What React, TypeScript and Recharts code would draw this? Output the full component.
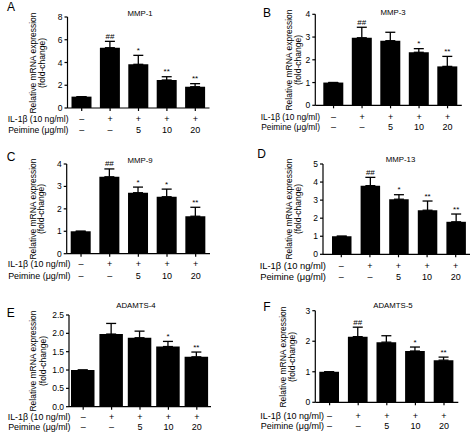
import React from 'react';
import { BarChart, Bar, XAxis, YAxis, ErrorBar, LabelList } from 'recharts';

// ---------- data ----------
const categories = ['Control', 'IL-1β', 'IL-1β+P5', 'IL-1β+P10', 'IL-1β+P20'];
const il1bSigns = ['–', '+', '+', '+', '+'];
const peimineDoses = ['–', '–', '5', '10', '20'];

const mmp1Values = [1.0, 5.3, 3.84, 2.46, 1.87];
const mmp1Errors = [0, 0.56, 0.79, 0.29, 0.27];
const mmp1Sig = ['', '##', '*', '**', '**'];

const mmp3Values = [1.0, 2.97, 2.84, 2.33, 1.71];
const mmp3Errors = [0, 0.46, 0.37, 0.16, 0.44];
const mmp3Sig = ['', '##', '', '*', '**'];

const mmp9Values = [1.0, 3.43, 2.72, 2.54, 1.67];
const mmp9Errors = [0, 0.35, 0.25, 0.34, 0.4];
const mmp9Sig = ['', '##', '*', '*', '**'];

const mmp13Values = [1.0, 3.8, 3.05, 2.44, 1.8];
const mmp13Errors = [0, 0.46, 0.25, 0.51, 0.43];
const mmp13Sig = ['', '##', '*', '**', '**'];

const adamts4Values = [1.0, 1.98, 1.88, 1.64, 1.36];
const adamts4Errors = [0, 0.29, 0.18, 0.14, 0.13];
const adamts4Sig = ['', '', '', '*', '**'];

const adamts5Values = [1.0, 2.15, 1.97, 1.68, 1.38];
const adamts5Errors = [0, 0.31, 0.21, 0.13, 0.1];
const adamts5Sig = ['', '##', '', '*', '**'];

const mmp1Ticks = [0, 2, 4, 6, 8];
const mmp3Ticks = [0, 1, 2, 3, 4];
const mmp9Ticks = [0, 1, 2, 3, 4];
const mmp13Ticks = [0, 1, 2, 3, 4, 5];
const adamts4Ticks = [0, 0.5, 1.0, 1.5, 2.0, 2.5];
const adamts5Ticks = [0, 1, 2, 3];

const yLabelLine1 = 'Relative mRNA expression';
const yLabelLine2 = '(fold-change)';
const il1bLabel = 'IL-1β (10 ng/ml)';
const peimineLabel = 'Peimine (μg/ml)';

// ---------- layout ----------
const FONT = '"Liberation Sans", Arial, Helvetica, sans-serif';
const PW = 237;
const PH = 146;

type Panel = {
  letter: string;
  title: string;
  values: number[];
  errors: number[];
  sig: string[];
  ticks: number[];
  decimals: number;
  ox: number;
  oy: number;
  axisX: number;
  bandEnd: number;
  top: number;
  bottom: number;
  padL: number;
  barSize: number;
  rows: [number, number];
  labelRight: number;
  labelSize: number;
  yl1: number;
  yl2: number;
  titleX: number;
  titleY: number;
  letterX: number;
  letterY: number;
};

const panels: Panel[] = [
  {
    letter: 'A', title: 'MMP-1', values: mmp1Values, errors: mmp1Errors, sig: mmp1Sig, ticks: mmp1Ticks, decimals: 0,
    ox: 0, oy: 0, axisX: 67.5, bandEnd: 209.5, top: 17, bottom: 108, padL: 0, barSize: 20,
    rows: [118.5, 129.5], labelRight: 68.5, labelSize: 8.6, yl1: 33, yl2: 41.7, titleX: 140, titleY: 14, letterX: 11, letterY: 7,
  },
  {
    letter: 'B', title: 'MMP-3', values: mmp3Values, errors: mmp3Errors, sig: mmp3Sig, ticks: mmp3Ticks, decimals: 0,
    ox: 237, oy: 0, axisX: 315.3, bandEnd: 461.8, top: 14.3, bottom: 105.3, padL: 4, barSize: 20,
    rows: [116.5, 127], labelRight: 320, labelSize: 8.4, yl1: 288.7, yl2: 297.7, titleX: 393, titleY: 13, letterX: 267, letterY: 12.5,
  },
  {
    letter: 'C', title: 'MMP-9', values: mmp9Values, errors: mmp9Errors, sig: mmp9Sig, ticks: mmp9Ticks, decimals: 0,
    ox: 0, oy: 145, axisX: 66.7, bandEnd: 210, top: 164, bottom: 253.7, padL: 0, barSize: 20,
    rows: [264, 275.5], labelRight: 70.5, labelSize: 8.9, yl1: 32.7, yl2: 41.3, titleX: 140, titleY: 160.5, letterX: 11, letterY: 156.7,
  },
  {
    letter: 'D', title: 'MMP-13', values: mmp13Values, errors: mmp13Errors, sig: mmp13Sig, ticks: mmp13Ticks, decimals: 0,
    ox: 237, oy: 145, axisX: 323, bandEnd: 470, top: 164, bottom: 254.3, padL: 4, barSize: 19.5,
    rows: [266, 276.5], labelRight: 326, labelSize: 9.4, yl1: 289.3, yl2: 298, titleX: 400.5, titleY: 160, letterX: 261.5, letterY: 154,
  },
  {
    letter: 'E', title: 'ADAMTS-4', values: adamts4Values, errors: adamts4Errors, sig: adamts4Sig, ticks: adamts4Ticks, decimals: 1,
    ox: 0, oy: 290, axisX: 69, bandEnd: 211, top: 315, bottom: 406.7, padL: 0, barSize: 23.5,
    rows: [417, 427], labelRight: 70.5, labelSize: 8.9, yl1: 33.3, yl2: 42.7, titleX: 136, titleY: 306, letterX: 10.7, letterY: 313,
  },
  {
    letter: 'F', title: 'ADAMTS-5', values: adamts5Values, errors: adamts5Errors, sig: adamts5Sig, ticks: adamts5Ticks, decimals: 0,
    ox: 237, oy: 290, axisX: 315.3, bandEnd: 458.3, top: 310.7, bottom: 402.3, padL: 0, barSize: 19.7,
    rows: [415.5, 426], labelRight: 324, labelSize: 9.0, yl1: 283, yl2: 292, titleX: 393, titleY: 306, letterX: 267, letterY: 306.7,
  },
];

const Y_AXIS_W = 30;
const X_AXIS_H = 20;

const makeTick = (p: Panel) => (props: any) => {
  const { x, payload } = props;
  const i = categories.indexOf(payload.value);
  return (
    <g>
      <text x={x} y={p.rows[0] - p.oy} textAnchor="middle" dominantBaseline="central" fontSize={9} fill="#000" fontFamily={FONT}>
        {il1bSigns[i]}
      </text>
      <text x={x} y={p.rows[1] - p.oy} textAnchor="middle" dominantBaseline="central" fontSize={9} fill="#000" fontFamily={FONT}>
        {peimineDoses[i]}
      </text>
    </g>
  );
};

const makeSig = (p: Panel) => (props: any) => {
  const vb = props.viewBox && props.viewBox.width !== undefined ? props.viewBox : props;
  const x = Number(vb.x);
  const y = Number(vb.y);
  const w = Number(vb.width);
  const h = Number(vb.height);
  const i = Number(props.value);
  const s = p.sig[i];
  if (!s || !isFinite(x) || !isFinite(y)) return null;
  const pxPerUnit = h / p.values[i];
  const errTop = y - p.errors[i] * pxPerUnit;
  return (
    <text x={x + w / 2} y={errTop - 2.5} textAnchor="middle" fontSize={8} fill="#000" fontFamily={FONT}>
      {s}
    </text>
  );
};

const PanelChart = ({ p }: { p: Panel }) => {
  const data = categories.map((c, i) => ({
    cat: c,
    value: p.values[i],
    err: [0, p.errors[i]],
    idx: String(i),
  }));
  const margin = {
    left: p.axisX - p.ox - Y_AXIS_W,
    right: PW - (p.bandEnd - p.ox),
    top: p.top - p.oy,
    bottom: PH - (p.bottom - p.oy) - X_AXIS_H,
  };
  const ymax = p.ticks[p.ticks.length - 1];
  return (
    <div style={{ position: 'absolute', left: p.ox, top: p.oy, width: PW, height: PH }}>
      <BarChart width={PW} height={PH} data={data} margin={margin}>
        <XAxis
          dataKey="cat"
          type="category"
          interval={0}
          height={X_AXIS_H}
          padding={{ left: p.padL, right: 0 }}
          axisLine={{ stroke: '#000', strokeWidth: 1.2 }}
          tickLine={{ stroke: '#000', strokeWidth: 1.2 }}
          tickSize={3}
          tick={makeTick(p)}
        />
        <YAxis
          type="number"
          domain={[0, ymax]}
          ticks={p.ticks}
          interval={0}
          width={Y_AXIS_W}
          axisLine={{ stroke: '#000', strokeWidth: 1.2 }}
          tickLine={{ stroke: '#000', strokeWidth: 1.2 }}
          tickSize={3}
          tickMargin={2}
          tick={{ fontSize: 8.5, fill: '#000', fontFamily: FONT }}
          tickFormatter={(v: number) => v.toFixed(p.decimals)}
        />
        <Bar dataKey="value" fill="#000" barSize={p.barSize} isAnimationActive={false}>
          <ErrorBar dataKey="err" direction="y" width={5} stroke="#000" strokeWidth={1.3} />
          <LabelList dataKey="idx" content={makeSig(p)} />
        </Bar>
      </BarChart>
    </div>
  );
};

const absText = (
  key: string,
  text: string,
  x: number,
  y: number,
  size: number,
  transform: string,
  extra: React.CSSProperties = {}
) => (
  <div
    key={key}
    style={{
      position: 'absolute',
      left: x,
      top: y,
      fontSize: size,
      lineHeight: 1,
      whiteSpace: 'nowrap',
      transform,
      color: '#000',
      fontFamily: FONT,
      ...extra,
    }}
  >
    {text}
  </div>
);

export default function App() {
  return (
    <div
      style={{
        position: 'absolute',
        left: 0,
        top: 0,
        width: 474,
        height: 436,
        background: '#fff',
        overflow: 'hidden',
        fontFamily: FONT,
      }}
    >
      {panels.map((p) => (
        <PanelChart key={p.letter} p={p} />
      ))}
      {panels.map((p) => (
        <React.Fragment key={'t' + p.letter}>
          {absText('l' + p.letter, p.letter, p.letterX, p.letterY, 12, 'translate(-50%, -50%)')}
          {absText('ti' + p.letter, p.title, p.titleX, p.titleY, 7.8, 'translate(-50%, -50%)')}
          {absText('r1' + p.letter, il1bLabel, p.labelRight, p.rows[0], p.labelSize, 'translate(-100%, -50%)')}
          {absText('r2' + p.letter, peimineLabel, p.labelRight, p.rows[1], p.labelSize, 'translate(-100%, -50%)')}
          {absText('y1' + p.letter, yLabelLine1, p.yl1, (p.top + p.bottom) / 2, 8.5, 'translate(-50%, -50%) rotate(-90deg)')}
          {absText('y2' + p.letter, yLabelLine2, p.yl2, (p.top + p.bottom) / 2, 8.5, 'translate(-50%, -50%) rotate(-90deg)')}
        </React.Fragment>
      ))}
    </div>
  );
}
